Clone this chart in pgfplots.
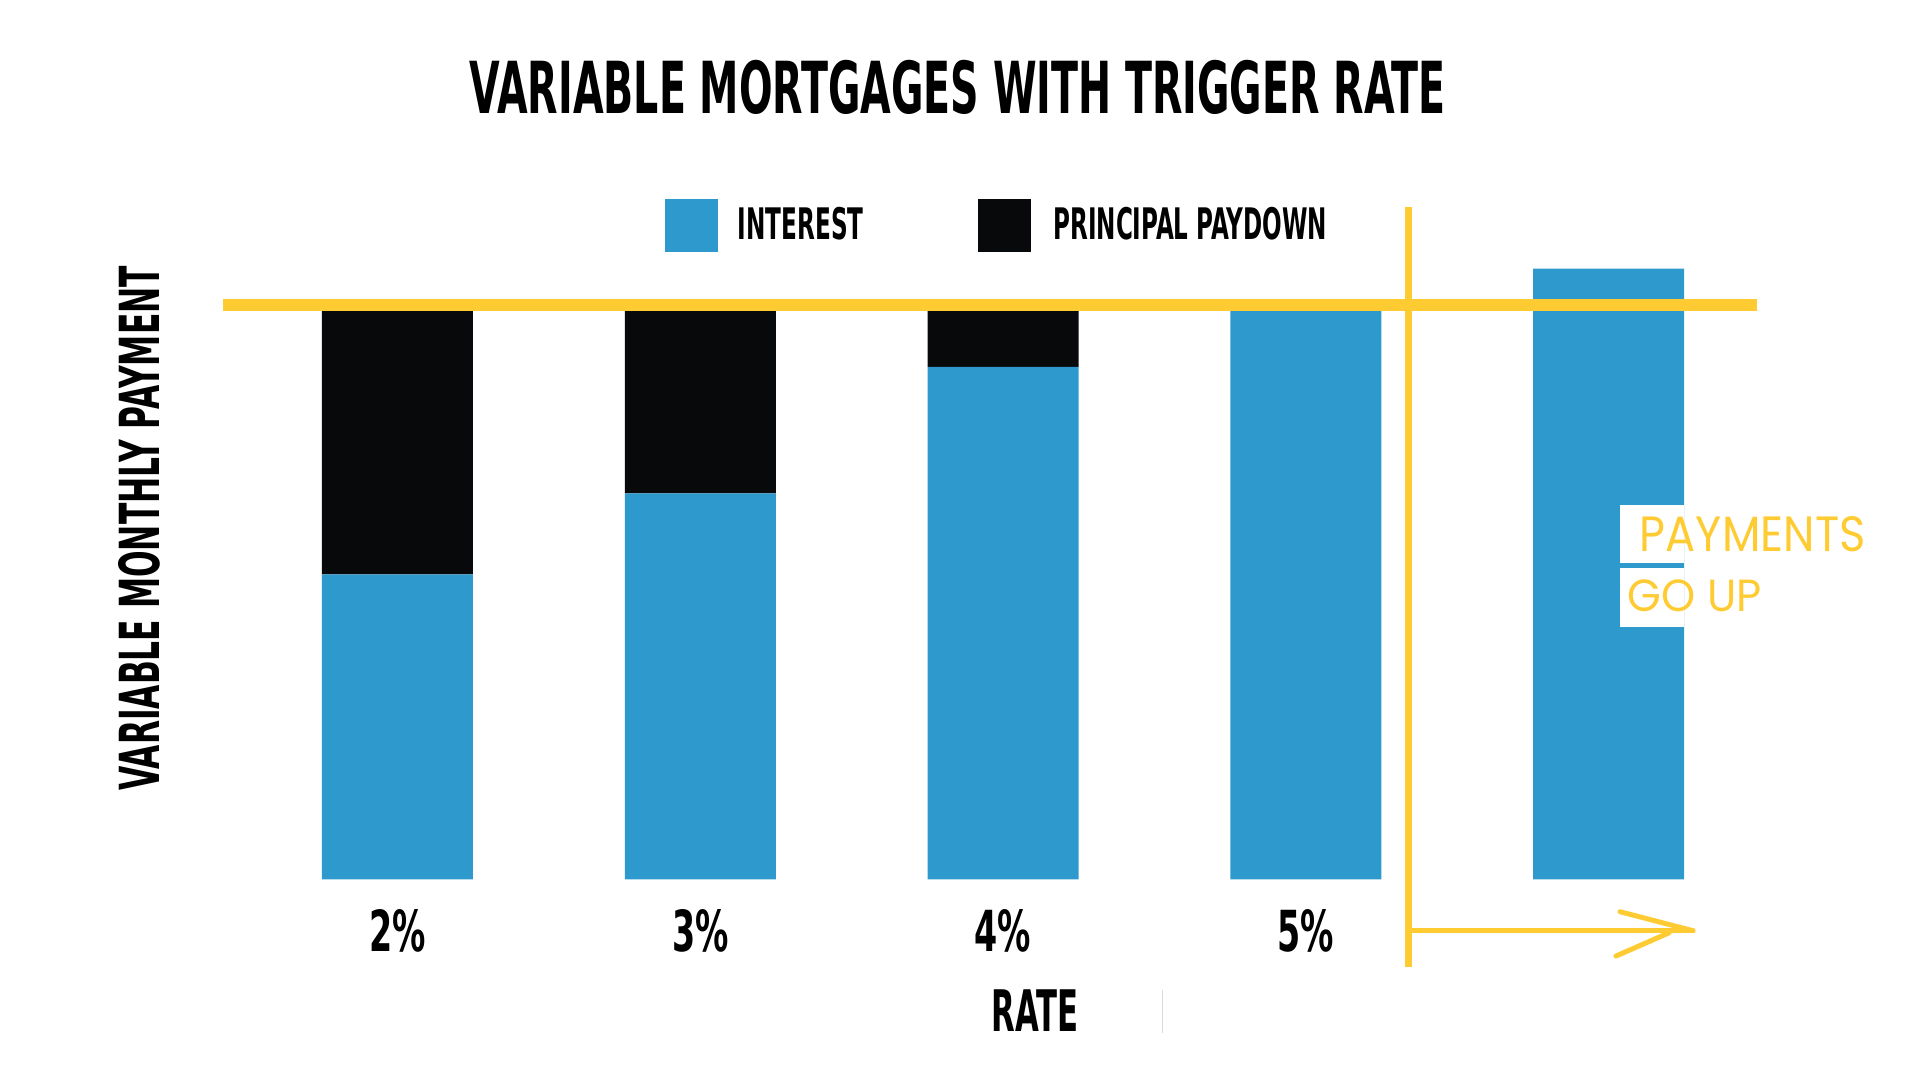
\documentclass[border=0pt]{standalone}
\usepackage{fontspec}
\usepackage{graphicx}
\usepackage{pgfplots}
\pgfplotsset{compat=1.18}
\newfontfamily\cond{DejaVu Sans Condensed}
\newfontfamily\hand{Poppins}
\definecolor{tblue}{HTML}{2E99CC}
\definecolor{tblack}{HTML}{08090B}
\definecolor{tyellow}{HTML}{FFCB33}
\newcommand{\fit}[3]{\resizebox{#1}{#2}{#3}}
\pgfplotsset{
  common/.style={
    at={(89.16pt,80.28pt)}, anchor=south west,
    scale only axis, width=613.5pt, height=275.7pt,
    xmin=-0.5766, xmax=4.4888, ymin=0, ymax=120,
    clip=false,
  }
}
\begin{document}
\begin{tikzpicture}
\useasboundingbox (0,0) rectangle (768pt,432pt);
\begin{axis}[
  common,
  axis line style={draw=none}, tick style={draw=none},
  ytick=\empty,
  xtick={0,1,2,3},
  xticklabels={
    \fit{22.6pt}{16.8pt}{\cond\bfseries 2\%},
    \fit{22.6pt}{16.8pt}{\cond\bfseries 3\%},
    \fit{22.6pt}{16.8pt}{\cond\bfseries 4\%},
    \fit{22.6pt}{16.8pt}{\cond\bfseries 5\%}},
  xticklabel style={anchor=base, yshift=-28.7pt, inner sep=0pt},
  ybar stacked, bar width=0.4987, bar shift=0pt,
  title={\fit{390.2pt}{21.3pt}{\cond\bfseries VARIABLE MORTGAGES WITH TRIGGER RATE}},
  every axis title/.style={at={(axis cs:1.8494,133.26)}, anchor=base, inner sep=0pt},
  xlabel={\fit{34.7pt}{16.7pt}{\cond\bfseries RATE}},
  every axis x label/.style={at={(axis cs:2.105,-26.54)}, anchor=base, inner sep=0pt},
  ylabel={\fit{210pt}{16.4pt}{\cond\bfseries VARIABLE MONTHLY PAYMENT}},
  every axis y label/.style={at={(axis cs:-0.852,61.08)}, rotate=90, anchor=center, inner sep=0pt},
]
% Interest
\addplot[fill=tblue, draw=none] coordinates {(0,53.1) (1,67.2) (2,89.2) (3,100) (4,106.3)};
% Principal paydown
\addplot[fill=tblack, draw=none] coordinates {(0,46.9) (1,32.8) (2,10.8) (3,0) (4,0)};
\end{axis}
\begin{axis}[common, hide axis]
% white patches behind the note
\addplot[fill=white, draw=none] coordinates {(4.0373,65.17) (4.2477,65.17) (4.2477,55.13) (4.0373,55.13)} -- cycle;
\addplot[fill=white, draw=none] coordinates {(4.0373,54.21) (4.2477,54.21) (4.2477,43.98) (4.0373,43.98)} -- cycle;
% legend swatches
\addplot[fill=tblue, draw=none] coordinates {(0.8838,118.46) (1.0575,118.46) (1.0575,109.28) (0.8838,109.28)} -- cycle;
\addplot[fill=tblack, draw=none] coordinates {(1.9171,118.46) (2.0908,118.46) (2.0908,109.28) (1.9171,109.28)} -- cycle;
% trigger line
\addplot[tyellow, line width=4.7pt] coordinates {(-0.5766,100) (4.4888,100)};
% vertical line
\addplot[tyellow, line width=2.8pt] coordinates {(3.3388,117.12) (3.3388,-15.32)};
% arrow
\addplot[tyellow, line width=2pt, line cap=round] coordinates {(3.3388,-8.95) (4.2784,-8.95)};
\addplot[tyellow, line width=2pt, line cap=round] coordinates {(4.0373,-5.64) (4.2784,-8.95)};
\addplot[tyellow, line width=2pt, line cap=round, line join=round] coordinates {(4.0241,-13.36) (4.20,-9.30)};
% faint mark
\addplot[black!15, line width=0.4pt] coordinates {(2.527,-19.28) (2.527,-26.76)};
\node[anchor=base west, inner sep=0pt] at (axis cs:1.1222,111.44) {\fit{50.3pt}{12.9pt}{\cond\bfseries INTEREST}};
\node[anchor=base west, inner sep=0pt] at (axis cs:2.1648,111.44) {\fit{109.4pt}{12.9pt}{\cond\bfseries PRINCIPAL PAYDOWN}};
\node[anchor=base, inner sep=0pt, text=tyellow] at (axis cs:4.4757,57.04) {\fit{90.2pt}{14pt}{\hand PAYMENTS}};
\node[anchor=base, inner sep=0pt, text=tyellow] at (axis cs:4.285,46.6) {\fit{53.6pt}{12.7pt}{\hand GO UP}};
\end{axis}
\end{tikzpicture}
\end{document}
